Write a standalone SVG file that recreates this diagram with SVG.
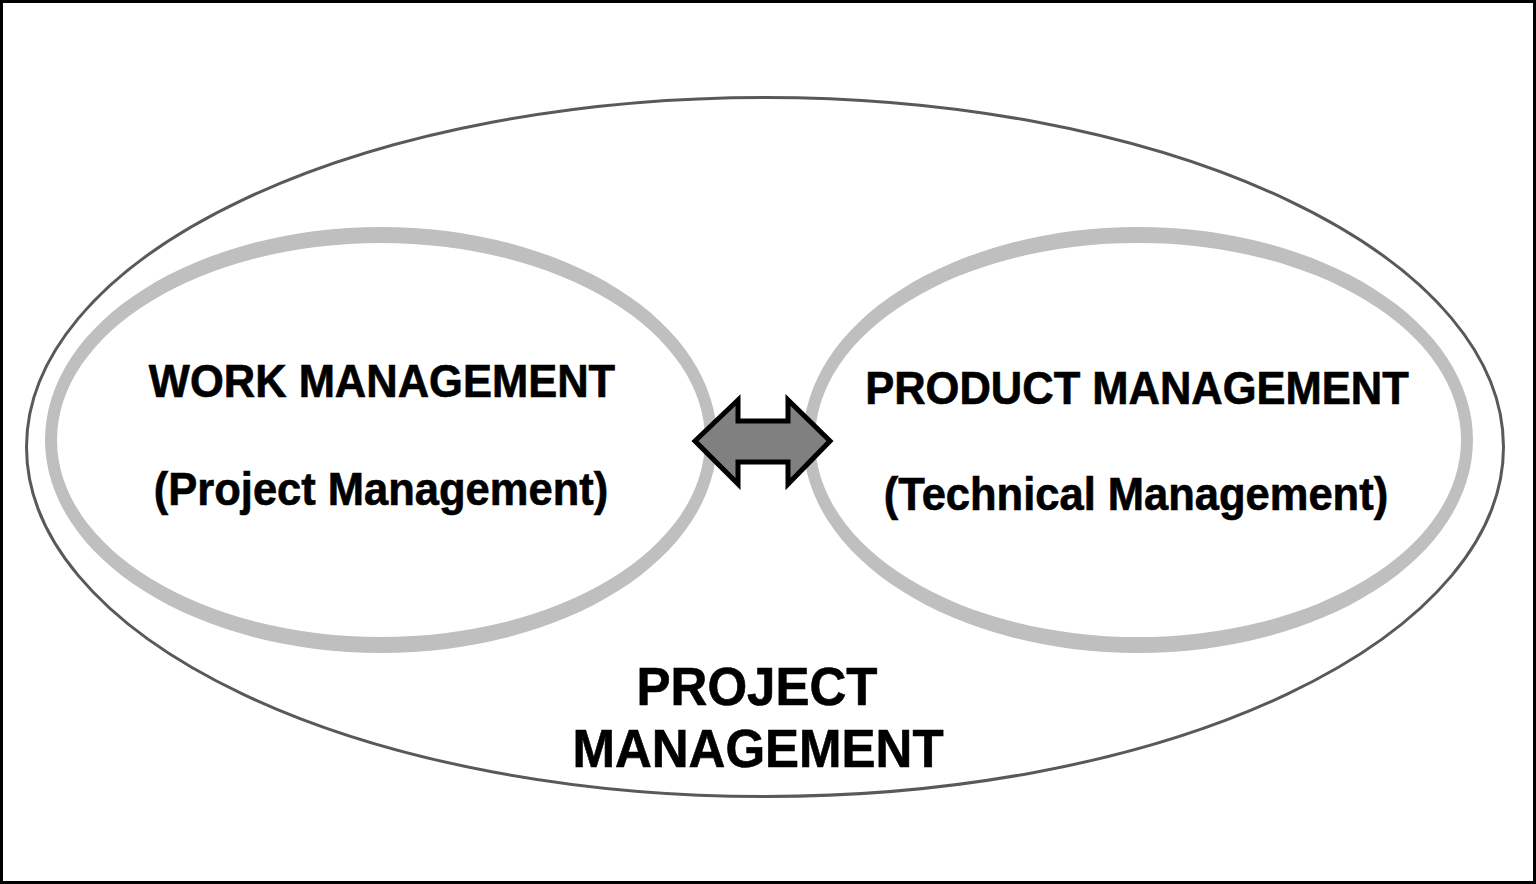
<svg xmlns="http://www.w3.org/2000/svg" width="1536" height="884" viewBox="0 0 1536 884">
<style>
.frame{fill:#ffffff;stroke:#000000;stroke-width:3}
.outer{fill:none;stroke:#595959;stroke-width:3}
.ring{fill:#bfbfbf;fill-rule:evenodd;stroke:none}
.lbl{font-family:"Liberation Sans",Arial,sans-serif;font-weight:bold;fill:#000000;stroke:#000000;stroke-width:0.6;text-anchor:middle}
.s{font-size:43.5px}
.b{font-size:51px}
.arrow{fill:#808080;stroke:#000000;stroke-width:5;stroke-linejoin:miter}
</style>
<rect class="frame" x="1.5" y="1.5" width="1533" height="881"/>
<g id="project-management">
<ellipse class="outer" cx="765" cy="447" rx="738.5" ry="349.5"/>
<text class="lbl b" transform="translate(757,705) scale(1,1.06)">PROJECT</text>
<text class="lbl b" transform="translate(758,767) scale(1,1.06)">MANAGEMENT</text>
</g>
<g id="work-management">
<path class="ring" d="M45,440 a336,213 0 1,0 672,0 a336,213 0 1,0 -672,0 Z M57,440 a324,197 0 1,0 648,0 a324,197 0 1,0 -648,0 Z"/>
<text class="lbl s" transform="translate(382,397) scale(1,1.08)">WORK MANAGEMENT</text>
<text class="lbl s" transform="translate(381,505) scale(1,1.08)">(Project Management)</text>
</g>
<g id="product-management">
<path class="ring" d="M803,440 a335,213 0 1,0 670,0 a335,213 0 1,0 -670,0 Z M815,440 a323,197 0 1,0 646,0 a323,197 0 1,0 -646,0 Z"/>
<text class="lbl s" transform="translate(1137,404) scale(1,1.08)">PRODUCT MANAGEMENT</text>
<text class="lbl s" transform="translate(1136,510) scale(1,1.08)">(Technical Management)</text>
</g>
<g id="connectors">
<polygon class="arrow" points="695,441 738,400 738,421 788,421 788,400 830,441 788,484 788,462 738,462 738,484"/>
</g>
</svg>
